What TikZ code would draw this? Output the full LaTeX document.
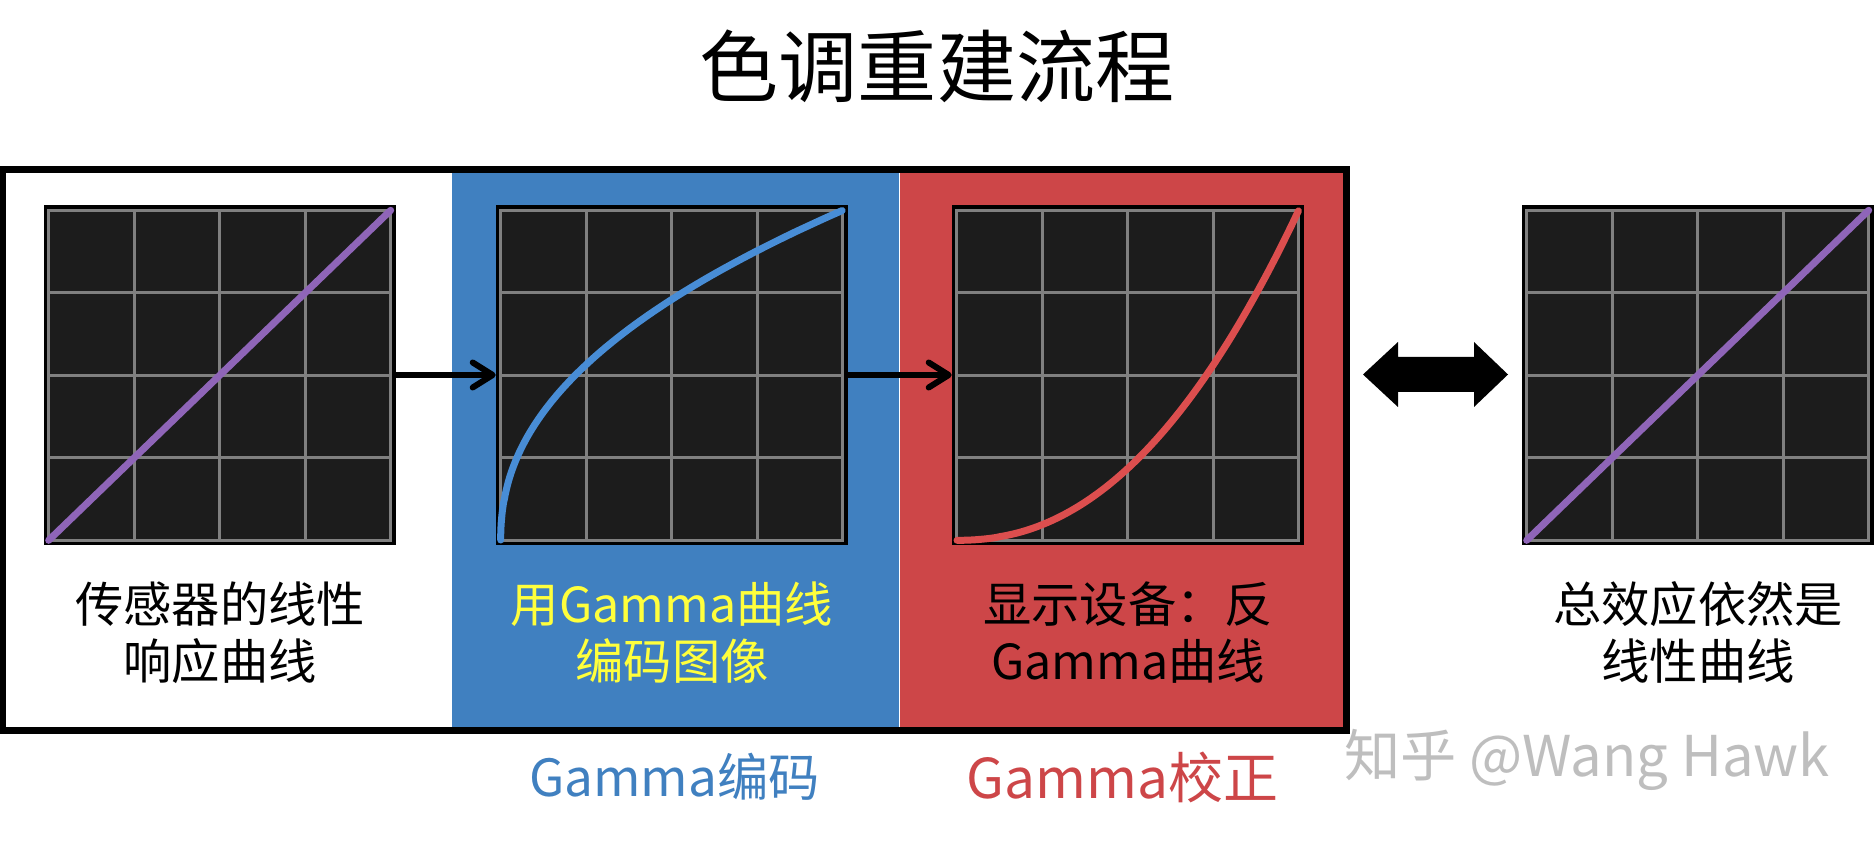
\documentclass[tikz,border=0pt]{standalone}
\usepackage{fontspec}
\setmainfont{Noto Sans CJK SC}
\usepackage{xcolor}
\usepackage{tikz}
\usetikzlibrary{arrows.meta}
\definecolor{panelbg}{RGB}{28,28,28}
\definecolor{gridgray}{RGB}{128,128,128}
\definecolor{linpurple}{RGB}{143,101,184}
\definecolor{encblue}{RGB}{64,128,192}
\definecolor{encline}{RGB}{72,141,214}
\definecolor{corrred}{RGB}{205,70,72}
\definecolor{corrline}{RGB}{220,78,78}
\definecolor{enctext}{RGB}{255,255,60}
\definecolor{markgray}{RGB}{190,190,190}

\begin{document}
\begin{tikzpicture}[x=0.02cm, y=0.02cm,
  panel/.style={fill=black, inner sep=0pt, minimum width=7.04cm, minimum height=6.8cm},
  gridline/.style={draw=gridgray, line width=0.06cm},
  curve/.style={line width=0.14cm, line cap=round},
  flow/.style={line width=0.12cm, line cap=round, -{Straight Barb[length=0.4cm, width=0.5cm, line cap=round, line join=round]}},
  caption/.style={align=center, inner sep=0pt, font=\fontsize{27.5pt}{32.4pt}\selectfont},
  stage/.style={inner sep=0pt, font=\fontsize{31.3pt}{36pt}\selectfont}]
\useasboundingbox (0,0) rectangle (1876,846);

% Title
\node[font=\fontsize{45pt}{54pt}\selectfont] (title) at (937,780) {色调重建流程};

% Backgrounds
\fill[encblue] (452,116) rectangle (899,676);
\fill[corrred] (900,116) rectangle (1346,676);
\draw[line width=0.14cm] (3,116) rectangle (1346,676.5);

% Panels
\node[panel] (sensor) at (220,471) {};
\node[panel] (encode) at (672,471) {};
\node[panel] (display) at (1128,471) {};
\node[panel] (total) at (1698,471) {};

%Grids
\begin{scope}[shift={(sensor.south west)}]
\fill[panelbg] (5,5) rectangle (347,335);
\draw[gridline, xshift=0.1cm, yshift=0.1cm] (0,0) grid[xstep=1.71cm, ystep=1.65cm] (342,330);
\draw[gridline] (5,5) rectangle (347,335);
\draw[curve, linpurple] (5,5) -- (347,335);
\end{scope}
\begin{scope}[shift={(encode.south west)}]
\fill[panelbg] (5,5) rectangle (347,335);
\draw[gridline, xshift=0.1cm, yshift=0.1cm] (0,0) grid[xstep=1.71cm, ystep=1.65cm] (342,330);
\draw[gridline] (5,5) rectangle (347,335);
\draw[curve, encline] plot[domain=0.001:1, samples=80, smooth] ({5+342*\x^2.2}, {5+330*\x});
\end{scope}
\begin{scope}[shift={(display.south west)}]
\fill[panelbg] (5,5) rectangle (347,335);
\draw[gridline, xshift=0.1cm, yshift=0.1cm] (0,0) grid[xstep=1.71cm, ystep=1.65cm] (342,330);
\draw[gridline] (5,5) rectangle (347,335);
\draw[curve, corrline] plot[domain=0.001:1, samples=80, smooth] ({5+342*\x}, {5+330*\x^2.2});
\end{scope}
\begin{scope}[shift={(total.south west)}]
\fill[panelbg] (5,5) rectangle (347,335);
\draw[gridline, xshift=0.1cm, yshift=0.1cm] (0,0) grid[xstep=1.71cm, ystep=1.65cm] (342,330);
\draw[gridline] (5,5) rectangle (347,335);
\draw[curve, linpurple] (5,5) -- (347,335);
\end{scope}

%Arrows
\draw[flow] (sensor.east) -- (encode.west);
\draw[flow] (encode.east) -- (display.west);
\fill (1363,471.5) -- (1398,504) -- (1398,489) -- (1474,489) -- (1474,504) -- (1508,471.5)
  -- (1474,439) -- (1474,454) -- (1398,454) -- (1398,439) -- cycle;

% Captions
\node[caption] (sensortext) at (220,213.5) {传感器的线性\\响应曲线};
\node[caption, enctext] (encodetext) at (672,213.5) {用Gamma曲线\\编码图像};
\node[caption] (displaytext) at (1128,213.5) {显示设备：反\\Gamma曲线};
\node[caption] (totaltext) at (1698,213.5) {总效应依然是\\线性曲线};

\node[stage, encblue, font=\fontsize{29.2pt}{34pt}\selectfont] (encodestage) at (674.5,69) {Gamma编码};
\node[stage, corrred] (correctstage) at (1122.5,69) {Gamma校正};
\node[markgray, inner sep=0pt, font=\fontsize{32pt}{38pt}\selectfont] (mark) at (1587,86) {知乎 @Wang Hawk};
\end{tikzpicture}
\end{document}
